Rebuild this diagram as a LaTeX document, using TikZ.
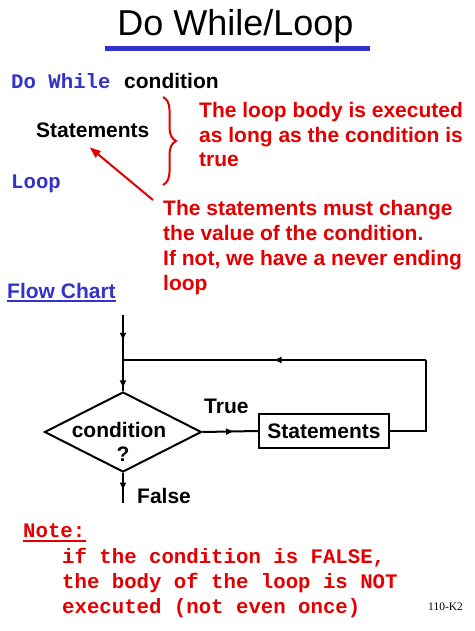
\documentclass[tikz,border=0pt]{standalone}
\usepackage{fontspec}
\setmainfont{Liberation Sans}
\newfontfamily\codefont{Liberation Mono}
\newfontfamily\slidefont{Liberation Serif}
\usetikzlibrary{arrows.meta,shapes.geometric,decorations.pathreplacing,decorations.markings}
\definecolor{codeblue}{RGB}{51,51,204}
\definecolor{alertred}{RGB}{228,0,0}
\begin{document}
\begin{tikzpicture}[x=1pt,y=-1pt,
    txt/.style={inner sep=0pt,anchor=base west,font=\fontsize{21}{25}\selectfont\bfseries},
    code/.style={txt,font=\fontsize{20.7}{25}\selectfont\codefont\bfseries},
    flowline/.style={line width=2pt},
    midarrow/.style={postaction={decorate},decoration={markings,
        mark=at position #1 with {\arrow{Triangle[length=7pt,width=6pt]}}}}]
        \useasboundingbox (0,0) rectangle (474,631);
        % title
        \node [inner sep=0pt,anchor=base,font=\fontsize{36}{40}\selectfont] (title) at (235.5,36) {Do While/Loop};
        \draw [line width=5pt,color=codeblue] (105,49) -- (370,49);
        % syntax (multi-line nodes sit on their last baseline)
        \node [code,color=codeblue] (dowhile) at (11,89) {Do While};
        \node [txt] (condtxt) at (124,89) {condition};
        \node [txt] (stmt) at (36,138) {Statements};
        \node [code,color=codeblue] (loopkw) at (11,188) {Loop};
        \draw [alertred,line width=2pt,decorate,decoration={brace,amplitude=13pt}] (163,97) -- (163,185);
        \node [txt,color=alertred,align=left,font=\fontsize{21}{24.5}\selectfont\bfseries] (body) at (199,167) {The loop body is executed\\as long as the condition is\\true};
        \node [txt,color=alertred,align=left] (change) at (163,290) {The statements must change\\the value of the condition.\\If not, we have a never ending\\loop};
        \coordinate (ptr) at (153,200);
        \draw [alertred,line width=2pt,-{Triangle[length=11pt,width=8pt]}] (ptr) -- ([shift={(-3pt,-9pt)}]stmt.south);
        % flow chart
        \node [txt,color=codeblue] (flow) at (7,298) {Flow Chart};
        \draw [line width=1.6pt,color=codeblue] ([yshift=-3pt]flow.base west) -- ([yshift=-3pt]flow.base east);
        \coordinate (start) at (123,315);
        \coordinate (join) at (123,360);
        \coordinate (back) at (426,360);
        \coordinate (exit) at (123,503);
        \node [diamond,draw,flowline,minimum width=157pt,minimum height=80pt,inner sep=0pt] (cond) at (123,432) {};
        \node [txt,anchor=base] (condq) at (119,437) {condition};
        \node [txt,anchor=base] (qmark) at (123,461) {?};
        \node [draw,flowline,minimum width=130pt,minimum height=34pt,inner sep=0pt,
               font=\fontsize{21}{25}\selectfont\bfseries] (box) at (324,431) {Statements};
        \draw [flowline,midarrow=0.55] (start) -- (join);
        \draw [flowline,midarrow=0.88] (join) -- (cond.north);
        \draw [flowline,midarrow=0.55] (cond.east) -- (box.west);
        \draw [flowline] (box.east) -| (back);
        \draw [flowline,midarrow=0.5] (back) -- (join);
        \draw [flowline,midarrow=0.55] (cond.south) -- (exit);
        \node [txt] (truelbl) at (204,413) {True};
        \node [txt] (falselbl) at (137,503) {False};
        % note
        \node [code,color=alertred] (note) at (23,537) {Note:};
        \draw [line width=1.6pt,color=alertred] ([yshift=-4pt]note.base west) -- ([yshift=-4pt]note.base east);
        \node [code,color=alertred,align=left] (notetxt) at (62,613) {if the condition is FALSE,\\the body of the loop is NOT\\executed (not even once)};
        \node [inner sep=0pt,anchor=base west,font=\fontsize{11.5}{13}\selectfont\slidefont] (slideno) at (428,610) {110-K2};
\end{tikzpicture}
\end{document}
